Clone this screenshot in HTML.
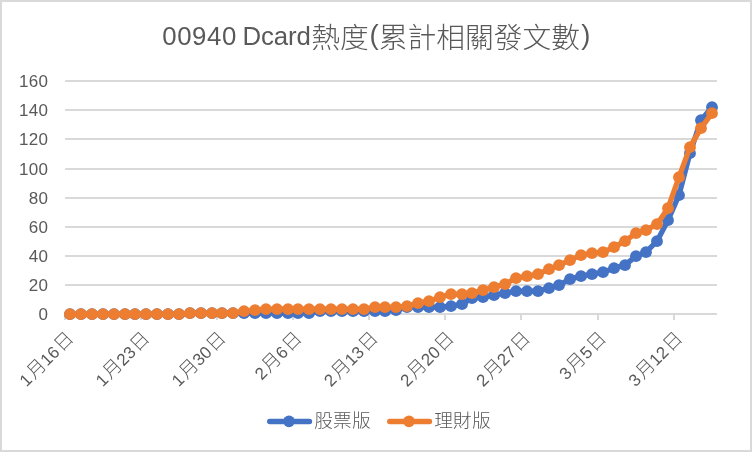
<!DOCTYPE html>
<html lang="zh-Hant">
<head>
<meta charset="utf-8">
<title>00940 Dcard熱度(累計相關發文數)</title>
<style>
html,body{margin:0;padding:0;background:#fff;}
body{width:752px;height:452px;overflow:hidden;}
svg{display:block;}
text{fill:#595959;}
.lat{font-family:"Liberation Sans", "Noto Sans CJK TC", sans-serif;}
.cjk{font-family:"Noto Sans CJK TC", "Liberation Sans", sans-serif;font-weight:300;}
</style>
</head>
<body>
<svg width="752" height="452" viewBox="0 0 752 452">

<rect x="0" y="0" width="752" height="452" fill="#fff"/>
<rect x="1" y="1" width="750" height="450" fill="none" stroke="#D9D9D9" stroke-width="2"/>
<g stroke="#D9D9D9" stroke-width="2" fill="none">
<line x1="65.1" y1="314.00" x2="717.0" y2="314.00"/>
<line x1="65.1" y1="285.00" x2="717.0" y2="285.00"/>
<line x1="65.1" y1="256.00" x2="717.0" y2="256.00"/>
<line x1="65.1" y1="227.00" x2="717.0" y2="227.00"/>
<line x1="65.1" y1="198.00" x2="717.0" y2="198.00"/>
<line x1="65.1" y1="169.00" x2="717.0" y2="169.00"/>
<line x1="65.1" y1="139.00" x2="717.0" y2="139.00"/>
<line x1="65.1" y1="110.00" x2="717.0" y2="110.00"/>
<line x1="65.1" y1="81.00" x2="717.0" y2="81.00"/>
<line x1="65.00" y1="314.00" x2="65.00" y2="320.00"/>
<line x1="141.00" y1="314.00" x2="141.00" y2="320.00"/>
<line x1="217.00" y1="314.00" x2="217.00" y2="320.00"/>
<line x1="293.00" y1="314.00" x2="293.00" y2="320.00"/>
<line x1="369.00" y1="314.00" x2="369.00" y2="320.00"/>
<line x1="445.00" y1="314.00" x2="445.00" y2="320.00"/>
<line x1="521.00" y1="314.00" x2="521.00" y2="320.00"/>
<line x1="598.00" y1="314.00" x2="598.00" y2="320.00"/>
<line x1="674.00" y1="314.00" x2="674.00" y2="320.00"/>
</g>
<g class="lat" font-size="17" text-anchor="end" letter-spacing="0.3">
<text x="48.2" y="320.00">0</text>
<text x="48.2" y="291.00">20</text>
<text x="48.2" y="262.00">40</text>
<text x="48.2" y="233.00">60</text>
<text x="48.2" y="204.00">80</text>
<text x="48.2" y="175.00">100</text>
<text x="48.2" y="145.00">120</text>
<text x="48.2" y="116.00">140</text>
<text x="48.2" y="87.00">160</text>
</g>
<g font-size="28.75">
<text class="lat" x="162.2" y="45.3" font-size="25.8" letter-spacing="0.62">00940</text>
<text class="lat" x="242.5" y="45.3" font-size="25.8" letter-spacing="-0.1">Dcard</text>
<text class="cjk" x="311.2" y="47.8">熱度</text>
<text class="lat" x="369.4" y="44.1" font-size="27.5">(</text>
<text class="cjk" x="378.75" y="47.8">累計相關發文數</text>
<text class="lat" x="581.3" y="44.1" font-size="27.5">)</text>
</g>
<text transform="translate(74.63 339.40) rotate(-45)" text-anchor="end" font-size="18.67"><tspan class="lat" font-size="17">1</tspan><tspan class="cjk" dx="1.2">月</tspan><tspan class="lat" font-size="17">16</tspan><tspan class="cjk" dx="1">日</tspan></text>
<text transform="translate(150.75 339.40) rotate(-45)" text-anchor="end" font-size="18.67"><tspan class="lat" font-size="17">1</tspan><tspan class="cjk" dx="1.2">月</tspan><tspan class="lat" font-size="17">23</tspan><tspan class="cjk" dx="1">日</tspan></text>
<text transform="translate(226.88 339.40) rotate(-45)" text-anchor="end" font-size="18.67"><tspan class="lat" font-size="17">1</tspan><tspan class="cjk" dx="1.2">月</tspan><tspan class="lat" font-size="17">30</tspan><tspan class="cjk" dx="1">日</tspan></text>
<text transform="translate(303.00 339.40) rotate(-45)" text-anchor="end" font-size="18.67"><tspan class="lat" font-size="17">2</tspan><tspan class="cjk" dx="1.2">月</tspan><tspan class="lat" font-size="17">6</tspan><tspan class="cjk" dx="1">日</tspan></text>
<text transform="translate(379.13 339.40) rotate(-45)" text-anchor="end" font-size="18.67"><tspan class="lat" font-size="17">2</tspan><tspan class="cjk" dx="1.2">月</tspan><tspan class="lat" font-size="17">13</tspan><tspan class="cjk" dx="1">日</tspan></text>
<text transform="translate(455.25 339.40) rotate(-45)" text-anchor="end" font-size="18.67"><tspan class="lat" font-size="17">2</tspan><tspan class="cjk" dx="1.2">月</tspan><tspan class="lat" font-size="17">20</tspan><tspan class="cjk" dx="1">日</tspan></text>
<text transform="translate(531.38 339.40) rotate(-45)" text-anchor="end" font-size="18.67"><tspan class="lat" font-size="17">2</tspan><tspan class="cjk" dx="1.2">月</tspan><tspan class="lat" font-size="17">27</tspan><tspan class="cjk" dx="1">日</tspan></text>
<text transform="translate(607.50 339.40) rotate(-45)" text-anchor="end" font-size="18.67"><tspan class="lat" font-size="17">3</tspan><tspan class="cjk" dx="1.2">月</tspan><tspan class="lat" font-size="17">5</tspan><tspan class="cjk" dx="1">日</tspan></text>
<text transform="translate(683.63 339.40) rotate(-45)" text-anchor="end" font-size="18.67"><tspan class="lat" font-size="17">3</tspan><tspan class="cjk" dx="1.2">月</tspan><tspan class="lat" font-size="17">12</tspan><tspan class="cjk" dx="1">日</tspan></text>
<polyline points="70.00,314.15 81.00,314.15 92.00,314.15 103.00,314.15 114.00,314.15 125.00,314.15 135.00,314.15 146.00,314.15 157.00,314.15 168.00,314.15 179.00,314.15 190.00,313.15 201.00,313.15 212.00,313.15 222.00,313.15 233.00,313.15 244.00,313.15 255.00,313.15 266.00,313.15 277.00,313.15 288.00,313.15 298.00,313.15 309.00,313.15 320.00,311.15 331.00,311.15 342.00,311.15 353.00,311.15 364.00,311.15 375.00,311.15 385.00,311.15 396.00,310.15 407.00,307.15 418.00,307.15 429.00,307.15 440.00,307.15 451.00,306.15 462.00,304.15 472.00,298.15 483.00,297.15 494.00,295.15 505.00,293.15 516.00,291.15 527.00,291.15 538.00,291.15 549.00,288.15 559.00,285.15 570.00,279.15 581.00,276.15 592.00,274.15 603.00,272.15 614.00,268.15 625.00,265.15 636.00,256.15 646.00,252.15 657.00,241.15 668.00,220.15 679.00,195.15 690.00,153.15 701.00,120.15 712.00,107.15" fill="none" stroke="#4472C4" stroke-width="5.3" stroke-linejoin="round" stroke-linecap="round"/>
<g fill="#4472C4">
<circle cx="70.00" cy="314.15" r="5.9"/>
<circle cx="81.00" cy="314.15" r="5.9"/>
<circle cx="92.00" cy="314.15" r="5.9"/>
<circle cx="103.00" cy="314.15" r="5.9"/>
<circle cx="114.00" cy="314.15" r="5.9"/>
<circle cx="125.00" cy="314.15" r="5.9"/>
<circle cx="135.00" cy="314.15" r="5.9"/>
<circle cx="146.00" cy="314.15" r="5.9"/>
<circle cx="157.00" cy="314.15" r="5.9"/>
<circle cx="168.00" cy="314.15" r="5.9"/>
<circle cx="179.00" cy="314.15" r="5.9"/>
<circle cx="190.00" cy="313.15" r="5.9"/>
<circle cx="201.00" cy="313.15" r="5.9"/>
<circle cx="212.00" cy="313.15" r="5.9"/>
<circle cx="222.00" cy="313.15" r="5.9"/>
<circle cx="233.00" cy="313.15" r="5.9"/>
<circle cx="244.00" cy="313.15" r="5.9"/>
<circle cx="255.00" cy="313.15" r="5.9"/>
<circle cx="266.00" cy="313.15" r="5.9"/>
<circle cx="277.00" cy="313.15" r="5.9"/>
<circle cx="288.00" cy="313.15" r="5.9"/>
<circle cx="298.00" cy="313.15" r="5.9"/>
<circle cx="309.00" cy="313.15" r="5.9"/>
<circle cx="320.00" cy="311.15" r="5.9"/>
<circle cx="331.00" cy="311.15" r="5.9"/>
<circle cx="342.00" cy="311.15" r="5.9"/>
<circle cx="353.00" cy="311.15" r="5.9"/>
<circle cx="364.00" cy="311.15" r="5.9"/>
<circle cx="375.00" cy="311.15" r="5.9"/>
<circle cx="385.00" cy="311.15" r="5.9"/>
<circle cx="396.00" cy="310.15" r="5.9"/>
<circle cx="407.00" cy="307.15" r="5.9"/>
<circle cx="418.00" cy="307.15" r="5.9"/>
<circle cx="429.00" cy="307.15" r="5.9"/>
<circle cx="440.00" cy="307.15" r="5.9"/>
<circle cx="451.00" cy="306.15" r="5.9"/>
<circle cx="462.00" cy="304.15" r="5.9"/>
<circle cx="472.00" cy="298.15" r="5.9"/>
<circle cx="483.00" cy="297.15" r="5.9"/>
<circle cx="494.00" cy="295.15" r="5.9"/>
<circle cx="505.00" cy="293.15" r="5.9"/>
<circle cx="516.00" cy="291.15" r="5.9"/>
<circle cx="527.00" cy="291.15" r="5.9"/>
<circle cx="538.00" cy="291.15" r="5.9"/>
<circle cx="549.00" cy="288.15" r="5.9"/>
<circle cx="559.00" cy="285.15" r="5.9"/>
<circle cx="570.00" cy="279.15" r="5.9"/>
<circle cx="581.00" cy="276.15" r="5.9"/>
<circle cx="592.00" cy="274.15" r="5.9"/>
<circle cx="603.00" cy="272.15" r="5.9"/>
<circle cx="614.00" cy="268.15" r="5.9"/>
<circle cx="625.00" cy="265.15" r="5.9"/>
<circle cx="636.00" cy="256.15" r="5.9"/>
<circle cx="646.00" cy="252.15" r="5.9"/>
<circle cx="657.00" cy="241.15" r="5.9"/>
<circle cx="668.00" cy="220.15" r="5.9"/>
<circle cx="679.00" cy="195.15" r="5.9"/>
<circle cx="690.00" cy="153.15" r="5.9"/>
<circle cx="701.00" cy="120.15" r="5.9"/>
<circle cx="712.00" cy="107.15" r="5.9"/>
</g>
<polyline points="70.00,314.15 81.00,314.15 92.00,314.15 103.00,314.15 114.00,314.15 125.00,314.15 135.00,314.15 146.00,314.15 157.00,314.15 168.00,314.15 179.00,314.15 190.00,313.15 201.00,313.15 212.00,313.15 222.00,313.15 233.00,313.15 244.00,311.15 255.00,310.15 266.00,309.15 277.00,309.15 288.00,309.15 298.00,309.15 309.00,309.15 320.00,309.15 331.00,309.15 342.00,309.15 353.00,309.15 364.00,309.15 375.00,307.15 385.00,307.15 396.00,307.15 407.00,306.15 418.00,303.15 429.00,301.15 440.00,297.15 451.00,294.15 462.00,294.15 472.00,293.15 483.00,290.15 494.00,287.15 505.00,284.15 516.00,278.15 527.00,276.15 538.00,274.15 549.00,269.15 559.00,265.15 570.00,260.15 581.00,255.15 592.00,253.15 603.00,252.15 614.00,247.15 625.00,241.15 636.00,233.15 646.00,230.15 657.00,224.15 668.00,208.15 679.00,177.15 690.00,147.15 701.00,128.15 712.00,113.15" fill="none" stroke="#ED7D31" stroke-width="5.3" stroke-linejoin="round" stroke-linecap="round"/>
<g fill="#ED7D31">
<circle cx="70.00" cy="314.15" r="5.9"/>
<circle cx="81.00" cy="314.15" r="5.9"/>
<circle cx="92.00" cy="314.15" r="5.9"/>
<circle cx="103.00" cy="314.15" r="5.9"/>
<circle cx="114.00" cy="314.15" r="5.9"/>
<circle cx="125.00" cy="314.15" r="5.9"/>
<circle cx="135.00" cy="314.15" r="5.9"/>
<circle cx="146.00" cy="314.15" r="5.9"/>
<circle cx="157.00" cy="314.15" r="5.9"/>
<circle cx="168.00" cy="314.15" r="5.9"/>
<circle cx="179.00" cy="314.15" r="5.9"/>
<circle cx="190.00" cy="313.15" r="5.9"/>
<circle cx="201.00" cy="313.15" r="5.9"/>
<circle cx="212.00" cy="313.15" r="5.9"/>
<circle cx="222.00" cy="313.15" r="5.9"/>
<circle cx="233.00" cy="313.15" r="5.9"/>
<circle cx="244.00" cy="311.15" r="5.9"/>
<circle cx="255.00" cy="310.15" r="5.9"/>
<circle cx="266.00" cy="309.15" r="5.9"/>
<circle cx="277.00" cy="309.15" r="5.9"/>
<circle cx="288.00" cy="309.15" r="5.9"/>
<circle cx="298.00" cy="309.15" r="5.9"/>
<circle cx="309.00" cy="309.15" r="5.9"/>
<circle cx="320.00" cy="309.15" r="5.9"/>
<circle cx="331.00" cy="309.15" r="5.9"/>
<circle cx="342.00" cy="309.15" r="5.9"/>
<circle cx="353.00" cy="309.15" r="5.9"/>
<circle cx="364.00" cy="309.15" r="5.9"/>
<circle cx="375.00" cy="307.15" r="5.9"/>
<circle cx="385.00" cy="307.15" r="5.9"/>
<circle cx="396.00" cy="307.15" r="5.9"/>
<circle cx="407.00" cy="306.15" r="5.9"/>
<circle cx="418.00" cy="303.15" r="5.9"/>
<circle cx="429.00" cy="301.15" r="5.9"/>
<circle cx="440.00" cy="297.15" r="5.9"/>
<circle cx="451.00" cy="294.15" r="5.9"/>
<circle cx="462.00" cy="294.15" r="5.9"/>
<circle cx="472.00" cy="293.15" r="5.9"/>
<circle cx="483.00" cy="290.15" r="5.9"/>
<circle cx="494.00" cy="287.15" r="5.9"/>
<circle cx="505.00" cy="284.15" r="5.9"/>
<circle cx="516.00" cy="278.15" r="5.9"/>
<circle cx="527.00" cy="276.15" r="5.9"/>
<circle cx="538.00" cy="274.15" r="5.9"/>
<circle cx="549.00" cy="269.15" r="5.9"/>
<circle cx="559.00" cy="265.15" r="5.9"/>
<circle cx="570.00" cy="260.15" r="5.9"/>
<circle cx="581.00" cy="255.15" r="5.9"/>
<circle cx="592.00" cy="253.15" r="5.9"/>
<circle cx="603.00" cy="252.15" r="5.9"/>
<circle cx="614.00" cy="247.15" r="5.9"/>
<circle cx="625.00" cy="241.15" r="5.9"/>
<circle cx="636.00" cy="233.15" r="5.9"/>
<circle cx="646.00" cy="230.15" r="5.9"/>
<circle cx="657.00" cy="224.15" r="5.9"/>
<circle cx="668.00" cy="208.15" r="5.9"/>
<circle cx="679.00" cy="177.15" r="5.9"/>
<circle cx="690.00" cy="147.15" r="5.9"/>
<circle cx="701.00" cy="128.15" r="5.9"/>
<circle cx="712.00" cy="113.15" r="5.9"/>
</g>
<line x1="269.7" y1="421.5" x2="309.5" y2="421.5" stroke="#4472C4" stroke-width="5.3" stroke-linecap="round"/>
<circle cx="289.0" cy="421.3" r="5.85" fill="#4472C4"/>
<text class="cjk" x="314.2" y="426.6" font-size="18.67" letter-spacing="0.25">股票版</text>
<line x1="389.7" y1="421.5" x2="429.5" y2="421.5" stroke="#ED7D31" stroke-width="5.3" stroke-linecap="round"/>
<circle cx="409.0" cy="421.3" r="5.85" fill="#ED7D31"/>
<text class="cjk" x="434.2" y="426.6" font-size="18.67" letter-spacing="0.25">理財版</text>
</svg>
</body>
</html>
